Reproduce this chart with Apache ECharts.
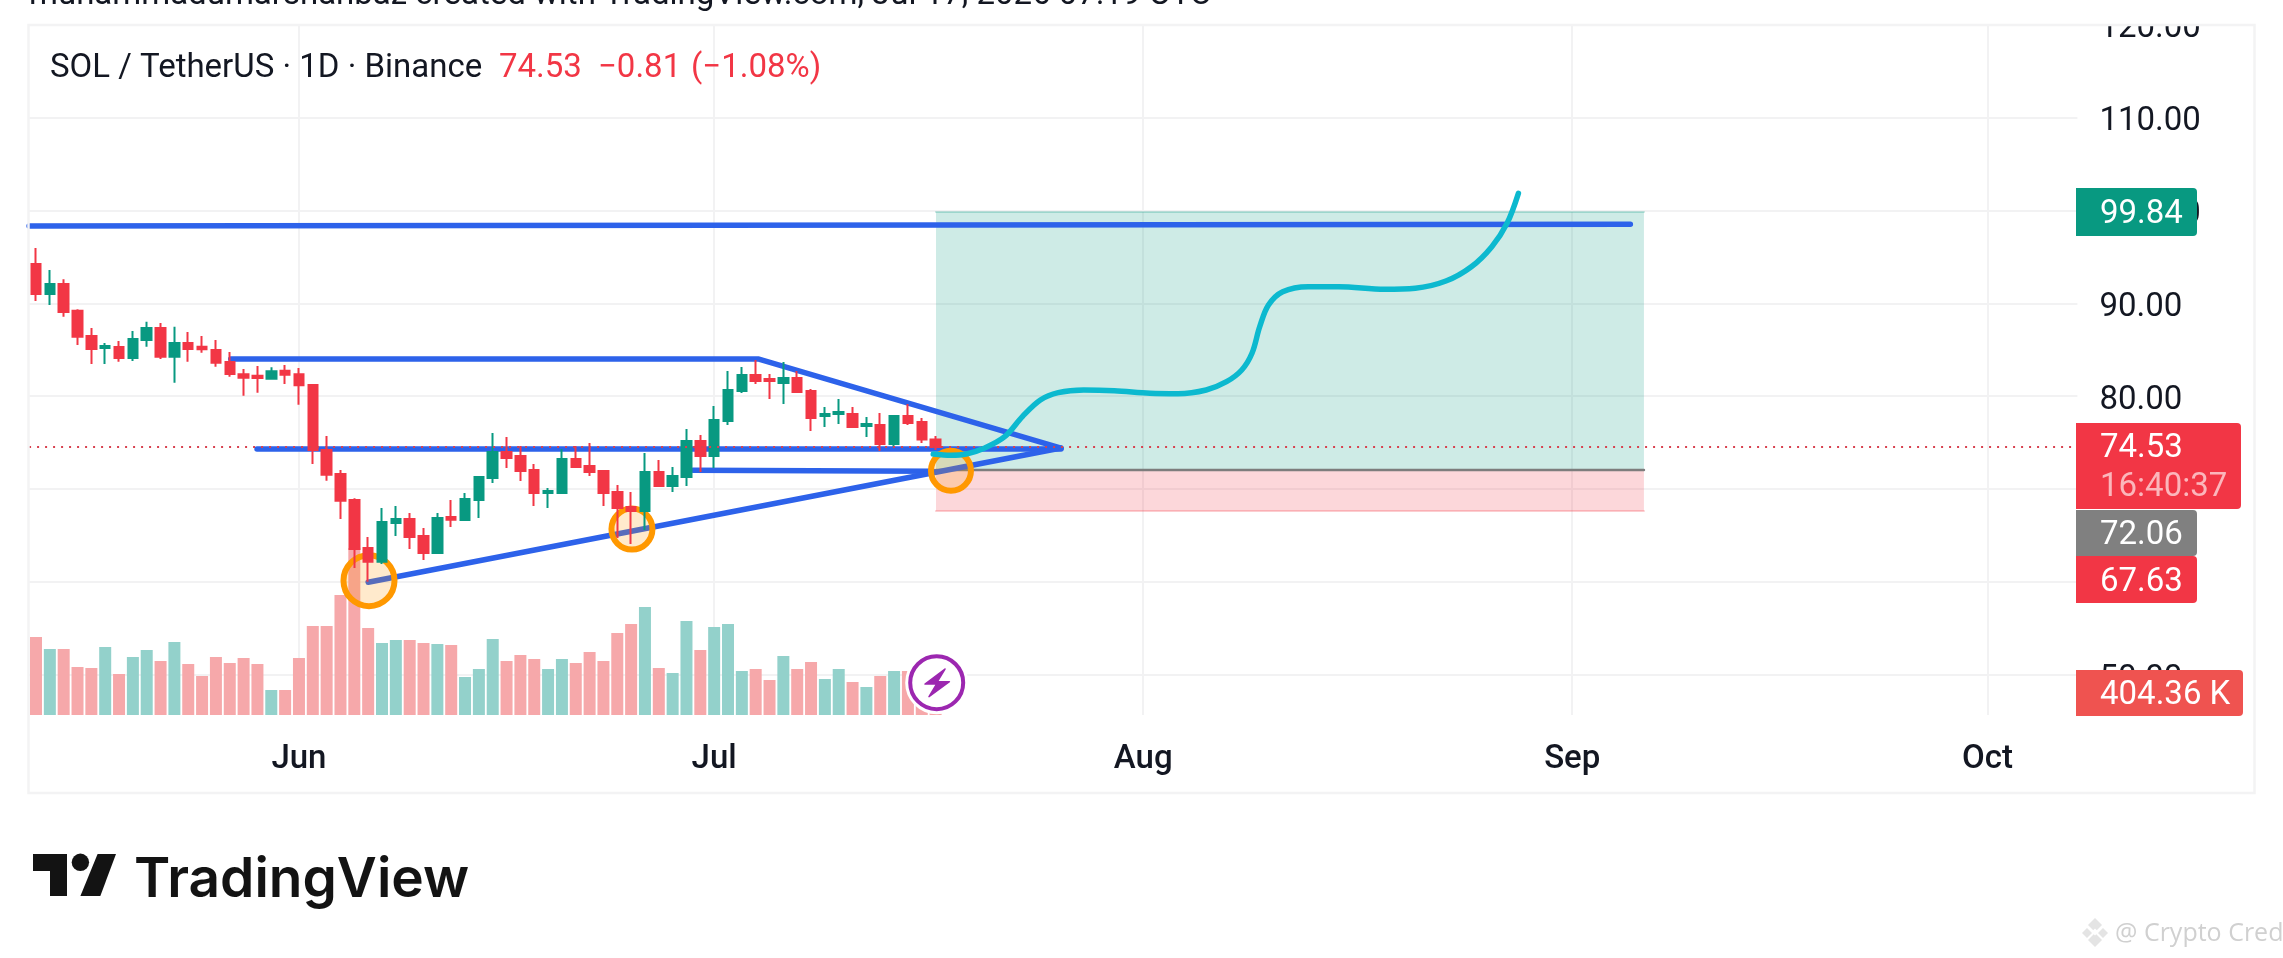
<!DOCTYPE html>
<html><head><meta charset="utf-8">
<style>html,body{margin:0;padding:0;background:#fff}#c{width:2283px;height:958px}</style>
<script src="https://cdn.jsdelivr.net/npm/echarts@6/dist/echarts.min.js"></script>
</head><body><div id="c"></div>
<script>
const startDate = [2026, 4, 13];
const dayCount = 148;
const monthTicks = {'2026-06-01':'Jun','2026-07-01':'Jul','2026-08-01':'Aug','2026-09-01':'Sep','2026-10-01':'Oct'};
const yTicks = [50,60,70,80,90,100,110,120];

const opens = [94.23,91.00,92.08,89.21,86.48,85.19,85.30,84.11,86.05,87.34,84.25,85.73,85.33,84.97,83.68,82.36,82.21,81.89,82.75,82.36,81.21,74.21,71.63,68.83,63.66,62.19,66.35,66.78,64.95,63.12,67.00,66.68,68.83,71.20,74.00,73.57,72.06,69.58,69.58,73.24,72.49,71.95,69.69,68.08,67.65,71.84,70.34,71.30,75.18,73.57,77.33,80.56,82.28,81.85,81.42,81.96,80.56,77.87,78.09,78.09,76.80,76.90,74.86,77.87,77.23,75.34];
const closes = [91.00,92.08,89.07,86.41,85.08,85.41,84.11,86.16,87.34,84.25,85.73,85.08,85.05,83.61,82.39,81.99,81.96,82.68,82.32,81.18,74.21,71.55,68.75,63.56,62.19,66.46,66.78,64.85,63.12,66.89,66.71,68.94,71.30,74.00,73.35,71.95,69.58,69.80,73.24,72.38,71.84,69.58,67.97,67.65,71.84,70.34,71.41,75.18,73.57,77.44,80.67,82.28,81.64,81.64,81.96,80.46,77.66,78.09,78.30,76.69,77.01,74.86,77.87,77.12,75.34,74.53];
const lows = [90.25,89.82,88.56,85.51,83.47,83.47,83.72,83.79,85.33,84.01,81.46,83.72,84.69,83.18,82.10,80.06,80.38,81.89,81.32,79.09,72.71,70.91,66.78,61.51,60.03,61.94,64.95,63.56,62.37,63.12,65.92,66.57,66.89,70.66,72.27,70.87,68.18,67.97,69.48,72.27,71.41,68.18,64.74,64.09,65.60,70.23,69.69,70.34,71.84,72.27,76.90,80.35,81.32,79.70,79.16,80.35,76.26,76.69,77.01,76.69,75.61,74.10,74.53,76.90,74.97,74.21];
const highs = [95.95,93.59,92.59,89.36,87.34,85.73,85.94,87.02,88.02,87.88,87.48,86.91,86.48,86.05,84.76,82.93,83.25,83.11,83.36,83.04,81.32,75.72,72.06,69.01,64.85,67.97,68.18,67.43,65.82,67.43,68.83,69.58,71.30,76.04,75.61,74.64,72.71,70.12,74.32,74.64,74.97,72.06,70.44,69.69,73.89,73.14,72.38,76.47,75.83,78.95,82.72,83.15,83.90,82.39,83.68,82.72,80.78,78.84,79.70,78.84,77.76,78.19,77.98,79.16,77.66,75.72];
const volumesK = [11700,9900,9900,7200,7050,10200,6150,8700,9750,8100,10950,7650,5850,8700,7800,8550,7650,3750,3750,8550,13350,13350,18000,25050,13050,10800,11250,11250,10800,10650,10500,5700,6900,11400,8100,9000,8400,6900,8400,7800,9450,8100,12300,13650,16200,7050,6300,14100,9750,13200,13650,6600,6900,5250,8850,6900,7950,5400,6900,4950,4200,5850,6600,6600,2250,404.36];

const resistanceLine = [[-0.5,98.32],[115.2,98.50]];
const upperWedge = [[14.07,84.01],[52.17,84.01],[74.06,74.42]];
const midLine = [[15.97,74.31],[74.06,74.31]];
const supportBox = [[47.47,72.03],[64.8,71.92]];
const lowerWedge = [[24.0,59.97],[74.06,74.42]];
const stopEntry = [[65.03,72.06],[116.18,72.06]];
const profitEdge = [[65.03,99.84],[116.18,99.84]];
const lossEdge = [[65.03,67.63],[116.18,67.63]];
const priceLine = [[-0.5,74.53],[147.5,74.53]];
const circles = [[24.06,60.14],[43.06,65.7],[66.11,71.98]];
const zones = [[65.03,116.18,99.84,72.06],[65.03,116.18,72.06,67.63]];
const projection = [[64.83,73.78],[66.11,73.64],[67.22,73.78],[68.51,74.40],[69.99,75.64],[71.27,77.80],[72.57,79.59],[73.86,80.38],[75.70,80.67],[77.91,80.59],[80.49,80.32],[82.51,80.27],[84.55,80.67],[86.02,81.56],[87.12,82.82],[87.86,84.62],[88.42,87.48],[89.05,89.82],[90.08,91.25],[91.92,91.79],[94.13,91.79],[97.45,91.51],[99.66,91.62],[101.87,92.40],[103.71,93.94],[105.19,96.10],[106.29,98.61],[107.11,101.84]];

const GREEN='#089981', RED='#f23645', BLUE='#2d62ea', FONT='Roboto, sans-serif';
const categories=[];
for(let i=0;i<dayCount;i++){
  const d=new Date(Date.UTC(startDate[0],startDate[1],startDate[2]+i));
  categories.push(d.toISOString().slice(0,10));
}
const isMonth=(i)=>monthTicks[categories[i]]!==undefined;
const candleData=opens.map((o,i)=>[o,closes[i],lows[i],highs[i]]);
const volData=volumesK.map((v,i)=>({value:v,itemStyle:{color:closes[i]>=opens[i]?'#93d1cb':'#f6a8aa'}}));
const lineSeries=(data,color,width,z,extra)=>Object.assign({type:'line',xAxisIndex:2,yAxisIndex:0,data,showSymbol:false,symbol:'none',silent:true,z,
  lineStyle:{color,width,cap:'round',join:'round'},animation:false},extra||{});

const GRID_X=29.08, GRID_W=2048.32;
const chart=echarts.init(document.getElementById('c'),null,{renderer:'canvas'});

const tag=(top,h,w,color,texts)=>[
  {type:'rect',z:60,shape:{x:2076,y:top,width:w,height:h,r:[0,4,4,0]},style:{fill:color}},
  ...texts.map(t=>({type:'text',z:61,style:{x:2100,y:t[1]+3,text:t[0],fill:t[2]||'#fff',font:'400 33px '+FONT,textVerticalAlign:'middle',textAlign:'left'}}))
];
const diamond=(cx,cy,r,fill)=>({type:'polygon',z:52,shape:{points:[[cx,cy-r],[cx+r,cy],[cx,cy+r],[cx-r,cy]]},style:{fill}});

const graphics=[
  {type:'rect',z:50,shape:{x:0,y:0,width:2283,height:24},style:{fill:'#fff'}},
  {type:'rect',z:51,shape:{x:28.5,y:25,width:2226,height:768},style:{fill:'none',stroke:'#f3f3f4',lineWidth:2.5}},
  {type:'text',z:52,style:{x:29,y:-4,text:'muhammadumarshahbaz created with TradingView.com, Jul 17, 2026 07:19 UTC',fill:'#131722',font:'400 33px '+FONT,textVerticalAlign:'middle',textAlign:'left'}},
  {type:'text',z:52,style:{x:50,y:69,text:'SOL / TetherUS · 1D · Binance',fill:'#131722',font:'400 33px '+FONT,textVerticalAlign:'middle'}},
  {type:'text',z:52,style:{x:499,y:69,text:'74.53',fill:RED,font:'400 33px '+FONT,textVerticalAlign:'middle'}},
  {type:'text',z:52,style:{x:598,y:69,text:'−0.81',fill:RED,font:'400 33px '+FONT,textVerticalAlign:'middle'}},
  {type:'text',z:52,style:{x:691,y:69,text:'(−1.08%)',fill:RED,font:'400 33px '+FONT,textVerticalAlign:'middle'}},
  ...tag(188,48,121,GREEN,[['99.84',212]]),
  ...tag(423,86,165,RED,[['74.53',446],['16:40:37',485,'#fbb6bb']]),
  ...tag(510,46,121,'#808080',[['72.06',533]]),
  ...tag(556,47,121,RED,[['67.63',579.5]]),
  ...tag(670,46,167,'#ef5350',[['404.36 K',693]]),
  {type:'circle',z:55,shape:{cx:936.7,cy:682.7,r:29},style:{fill:'#fff',stroke:'#fff',lineWidth:5}},
  {type:'circle',z:56,shape:{cx:936.7,cy:682.7,r:26.5},style:{fill:'#fff',stroke:'#9c27b0',lineWidth:4}},
  {type:'polygon',z:57,shape:{points:[[945,669],[925,684],[936.7,684],[929,696.7],[949.4,681.7],[937.4,681.7]]},style:{fill:'#9c27b0',stroke:'#9c27b0',lineWidth:1.5,lineJoin:'round'}},
  {type:'polygon',z:52,shape:{points:[[33,854],[67,854],[67,896],[50,896],[50,871],[33,871]]},style:{fill:'#131313'}},
  {type:'polygon',z:52,shape:{points:[[97.6,854],[116,854],[100.3,896],[80.4,896]]},style:{fill:'#131313'}},
  {type:'circle',z:52,shape:{cx:80.4,cy:862.3,r:8.7},style:{fill:'#131313'}},
  {type:'text',z:52,style:{x:134,y:880,text:'TradingView',fill:'#131313',font:'600 55px Inter, sans-serif',textVerticalAlign:'middle'}},
  diamond(2095,925,7,'#e4e4e4'),diamond(2087,933,5,'#e4e4e4'),diamond(2103,933,5,'#e4e4e4'),diamond(2095,940,7,'#e4e4e4'),diamond(2095,932,3.5,'#fff'),
  {type:'text',z:52,style:{x:2115,y:934,text:'@ Crypto Cred',fill:'#d0d0d0',font:'400 25px "Open Sans", sans-serif',textVerticalAlign:'middle'}}
];

chart.setOption({
  animation:false,
  backgroundColor:'#fff',
  grid:[
    {left:GRID_X,width:GRID_W,top:24.6,height:650.3,containLabel:false},
    {left:GRID_X,width:GRID_W,top:25,height:690,containLabel:false}
  ],
  xAxis:[
    {type:'category',gridIndex:0,data:categories,show:false},
    {type:'category',gridIndex:1,data:categories,position:'bottom',
      axisLine:{show:false},axisTick:{show:false},
      axisLabel:{interval:(i)=>isMonth(i),formatter:(v)=>monthTicks[v]||'',color:'#131722',fontFamily:FONT,fontSize:33,fontWeight:500,margin:28,hideOverlap:false},
      splitLine:{show:true,alignWithLabel:true,interval:(i)=>isMonth(i),lineStyle:{color:'#f2f2f3',width:2}}},
    {type:'value',gridIndex:0,min:-0.5,max:147.5,show:false,splitLine:{show:false}}
  ],
  yAxis:[
    {type:'value',gridIndex:0,min:yTicks[0],max:yTicks[yTicks.length-1],interval:10,position:'right',
      axisLine:{show:false},axisTick:{show:false},
      axisLabel:{formatter:(v)=>'{a|'+v.toFixed(2)+'}',margin:22,align:'left',verticalAlign:'middle',
        rich:{a:{color:'#131722',fontFamily:FONT,fontSize:33,padding:[9,0,0,0]}}},
      splitLine:{show:true,lineStyle:{color:'#f2f2f3',width:2}}},
    {type:'value',gridIndex:1,min:0,max:103500,show:false,splitLine:{show:false}}
  ],
  series:[
    {type:'custom',xAxisIndex:2,yAxisIndex:0,z:1,silent:true,clip:true,data:zones,
      renderItem:(p,api)=>{
        const a=api.coord([api.value(0),api.value(2)]),b=api.coord([api.value(1),api.value(3)]);
        return {type:'rect',shape:{x:a[0],y:a[1],width:b[0]-a[0],height:b[1]-a[1]},
          style:{fill:p.dataIndex===0?'rgba(8,153,129,0.2)':'rgba(242,54,69,0.2)'}};
      },encode:{x:[0,1],y:[2,3]}},
    {type:'bar',xAxisIndex:1,yAxisIndex:1,data:volData,barWidth:12,z:2,silent:true},
    lineSeries(profitEdge,'rgba(8,153,129,0.25)',2,2),
    lineSeries(lossEdge,'rgba(242,54,69,0.25)',2,2),
    lineSeries(stopEntry,'#7d7d7d',2.5,3),
    lineSeries(resistanceLine,BLUE,5.5,3),
    lineSeries(upperWedge,BLUE,5.5,3),
    lineSeries(midLine,BLUE,5.5,3),
    lineSeries(supportBox,BLUE,5.5,3),
    lineSeries(lowerWedge,BLUE,5.5,3),
    {type:'scatter',xAxisIndex:2,yAxisIndex:0,data:circles,z:4,silent:true,
      symbolSize:(v,p)=>[51,41,40][p.dataIndex],
      itemStyle:{color:'rgba(255,152,0,0.2)',borderColor:'#ff9800',borderWidth:6,opacity:1}},
    {type:'candlestick',xAxisIndex:0,yAxisIndex:0,data:candleData,barWidth:10,z:5,silent:true,
      itemStyle:{color:GREEN,color0:RED,borderColor:GREEN,borderColor0:RED,borderWidth:2}},
    lineSeries(priceLine,'#d8414f',2,6,{lineStyle:{color:'#d8414f',width:2,type:[2,6]}}),
    lineSeries(projection,'#0cb9cf',5.5,7,{smooth:0.35})
  ],
  graphic:graphics
});
</script></body></html>
